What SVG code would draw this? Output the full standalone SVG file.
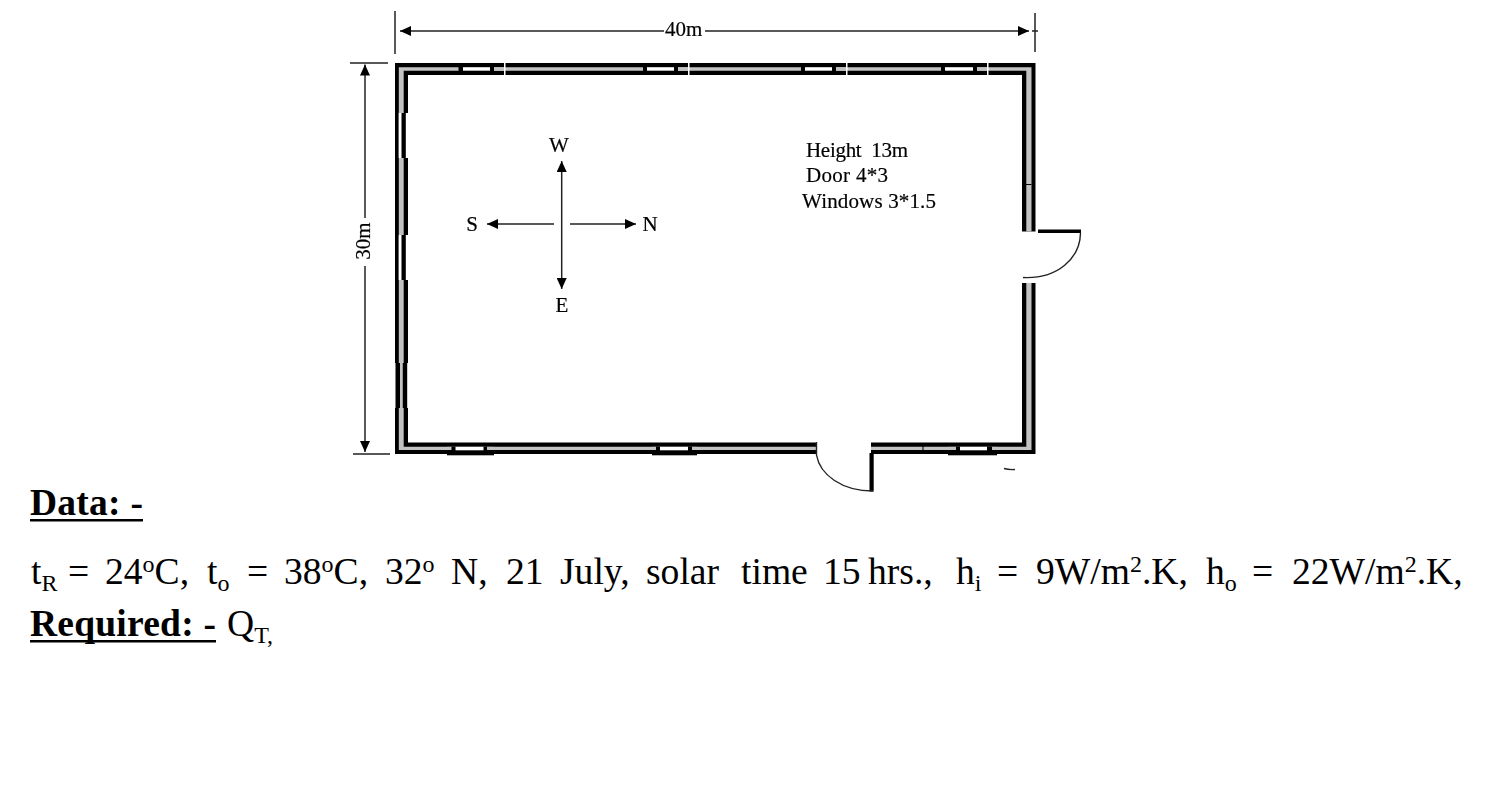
<svg xmlns="http://www.w3.org/2000/svg" width="1490" height="786" viewBox="0 0 1490 786">
<style>
text{font-family:"Liberation Serif","Times New Roman",serif;fill:#000}
.b{font-size:37.600px}
.bb{font-size:37.500px;font-weight:bold}
.l{font-size:21px;stroke:#000;stroke-width:0.200}
.k{fill:#000}
.g{fill:#c2c2c2}
.w{fill:#fff}
.ln{stroke:#222;stroke-width:1.500;fill:none}
.arc{stroke:#222;stroke-width:1.400;fill:none}
</style>
<defs>
<marker id="ah" viewBox="0 0 11 10" refX="11" refY="5" markerWidth="11" markerHeight="10" markerUnits="userSpaceOnUse" orient="auto-start-reverse"><path d="M0 0L11 5L0 10Z" fill="#000"/></marker>
<filter id="soft" x="-5%" y="-5%" width="110%" height="110%"><feGaussianBlur stdDeviation="0.300"/></filter>
</defs>
<rect width="1490" height="786" fill="#fff"/>
<g id="plan" filter="url(#soft)">
<g id="walls">
<path class="k" d="M395 63H1035.500V231.500H1022V75H408V442.500H817V454H395Z"/>
<path class="k" d="M1022 283H1035.500V454H871V442.500H1022Z"/>
<path class="g" d="M398.800 67.200H1031.500V231.500H1026.300V70.800H403.700V446.800H817V450H398.800Z"/>
<path class="g" d="M1026.300 283H1031.500V450H871V446.800H1026.300Z"/>
<rect class="k" x="1026" y="184" width="5.500" height="1"/>
</g>
<g id="top-windows">
<rect class="k" x="458.500" y="63" width="35.500" height="12"/><rect class="w" x="463" y="67.200" width="27" height="3.500"/><rect class="g" x="494" y="67.200" width="10" height="3.600"/><rect class="w" x="504" y="63" width="1.500" height="12"/>
<rect class="k" x="643" y="63" width="35" height="12"/><rect class="w" x="647" y="67.200" width="27" height="3.500"/><rect class="g" x="678" y="67.200" width="10" height="3.600"/><rect class="w" x="688" y="63" width="1.500" height="12"/>
<rect class="k" x="801" y="63" width="35" height="12"/><rect class="w" x="805" y="67.200" width="27" height="3.500"/><rect class="g" x="836" y="67.200" width="10" height="3.600"/><rect class="w" x="846" y="63" width="1.500" height="12"/>
<rect class="k" x="941" y="63" width="36" height="12"/><rect class="w" x="945" y="67.200" width="28" height="3.500"/><rect class="g" x="977" y="67.200" width="10" height="3.600"/><rect class="w" x="987" y="63" width="1.500" height="12"/>
</g>
<g id="left-windows">
<rect class="w" x="398.700" y="113" width="9.800" height="45"/><rect class="k" x="401.500" y="113" width="4.300" height="45"/>
<rect class="w" x="398.700" y="235" width="9.800" height="45"/><rect class="k" x="401.500" y="235" width="4.300" height="45"/>
<rect class="w" x="395" y="363" width="14" height="45"/><rect class="k" x="395.500" y="363" width="4.500" height="45"/><rect class="g" x="400" y="363" width="2.700" height="45"/><rect class="k" x="402.700" y="363" width="4.500" height="45"/>
</g>
<g id="bottom-windows">
<rect class="k" x="447" y="446.800" width="47" height="8.500"/><rect class="w" x="455.500" y="446.800" width="28" height="3.500"/>
<rect class="k" x="652" y="446.800" width="45" height="8.500"/><rect class="w" x="660" y="446.800" width="28" height="3.500"/>
<rect class="k" x="948" y="446.800" width="49" height="8.500"/><rect class="w" x="960" y="446.800" width="27" height="3.500"/>
<rect class="g" x="447" y="446.800" width="4.500" height="3.200"/><rect class="g" x="487" y="446.800" width="7" height="3.200"/>
<rect class="g" x="652" y="446.800" width="4" height="3.200"/><rect class="g" x="692" y="446.800" width="5" height="3.200"/>
<rect class="g" x="948" y="446.800" width="8" height="3.200"/><rect class="g" x="992" y="446.800" width="5" height="3.200"/>
<rect class="k" x="922.500" y="443" width="1" height="11"/>
<path class="arc" d="M1004 468.500Q1009 470 1015 469.500"/>
</g>
<g id="doors">
<rect class="k" x="1038" y="229.500" width="43" height="3.500"/>
<path class="arc" d="M1080.500 233C1080 258 1058 279 1023 277.500"/>
<rect class="k" x="869.500" y="453" width="4.200" height="38.500"/>
<path class="arc" d="M816.500 442V455C820 475 842 491 873 491"/>
</g>
<g id="dimensions">
<path class="ln" d="M395 11V54M1035 13V52M1032 31H1038M350 63H388M353 454H390"/>
<path class="ln" d="M664 31H400" marker-end="url(#ah)"/>
<path class="ln" d="M705 31H1029" marker-end="url(#ah)"/>
<path class="ln" d="M365 218V64.500" marker-end="url(#ah)"/>
<path class="ln" d="M365 266V452" marker-end="url(#ah)"/>
<text class="l" x="665" y="36">40m</text>
<text class="l" text-anchor="middle" transform="translate(370 241) rotate(-90)">30m</text>
</g>
<g id="compass">
<path class="ln" d="M561.700 161V289" marker-start="url(#ah)" marker-end="url(#ah)"/>
<path class="ln" d="M554 224H487" marker-end="url(#ah)"/>
<path class="ln" d="M570 224H636" marker-end="url(#ah)"/>
<text class="l" text-anchor="middle" x="559" y="152">W</text>
<text class="l" text-anchor="middle" x="472" y="231">S</text>
<text class="l" text-anchor="middle" x="650" y="231">N</text>
<text class="l" text-anchor="middle" x="562" y="312">E</text>
</g>
<g id="notes">
<text class="l" x="806" y="157" xml:space="preserve" textLength="102">Height  13m</text>
<text class="l" x="806" y="182" textLength="82">Door 4*3</text>
<text class="l" x="802" y="208" textLength="134">Windows 3*1.5</text>
</g>
</g>
<g id="text">
<text class="bb" x="30" y="515" textLength="113">Data: -</text>
<rect x="30" y="519" width="113" height="2.500"/>
<text class="b" y="584" x="31">t<tspan font-size="24" dy="7">R</tspan></text>
<text class="b" y="584" x="68">=</text>
<text class="b" y="584" x="105">24<tspan font-size="24" dy="-12">o</tspan><tspan dy="12">C,</tspan></text>
<text class="b" y="584" x="207">t<tspan font-size="24" dy="7">o</tspan></text>
<text class="b" y="584" x="247">=</text>
<text class="b" y="584" x="284">38<tspan font-size="24" dy="-12">o</tspan><tspan dy="12">C,</tspan></text>
<text class="b" y="584" x="385">32<tspan font-size="24" dy="-12">o</tspan></text>
<text class="b" y="584" x="451">N,</text>
<text class="b" y="584" x="506">21</text>
<text class="b" y="584" x="560">July,</text>
<text class="b" y="584" x="646">solar</text>
<text class="b" y="584" x="741">time</text>
<text class="b" y="584" x="823">15</text>
<text class="b" y="584" x="868">hrs.,</text>
<text class="b" y="584" x="956">h<tspan font-size="24" dy="7">i</tspan></text>
<text class="b" y="584" x="997">=</text>
<text class="b" y="584" x="1036">9W/m<tspan font-size="24" dy="-12">2</tspan><tspan dy="12">.K,</tspan></text>
<text class="b" y="584" x="1206">h<tspan font-size="24" dy="7">o</tspan></text>
<text class="b" y="584" x="1252">=</text>
<text class="b" y="584" x="1292">22W/m<tspan font-size="24" dy="-12">2</tspan><tspan dy="12">.K,</tspan></text>
<text class="bb" x="30" y="636" textLength="186">Required: -</text>
<rect x="30" y="640" width="186" height="2.500"/>
<text class="b" x="227" y="636">Q<tspan font-size="24" dy="7">T,</tspan></text>
</g>
</svg>
